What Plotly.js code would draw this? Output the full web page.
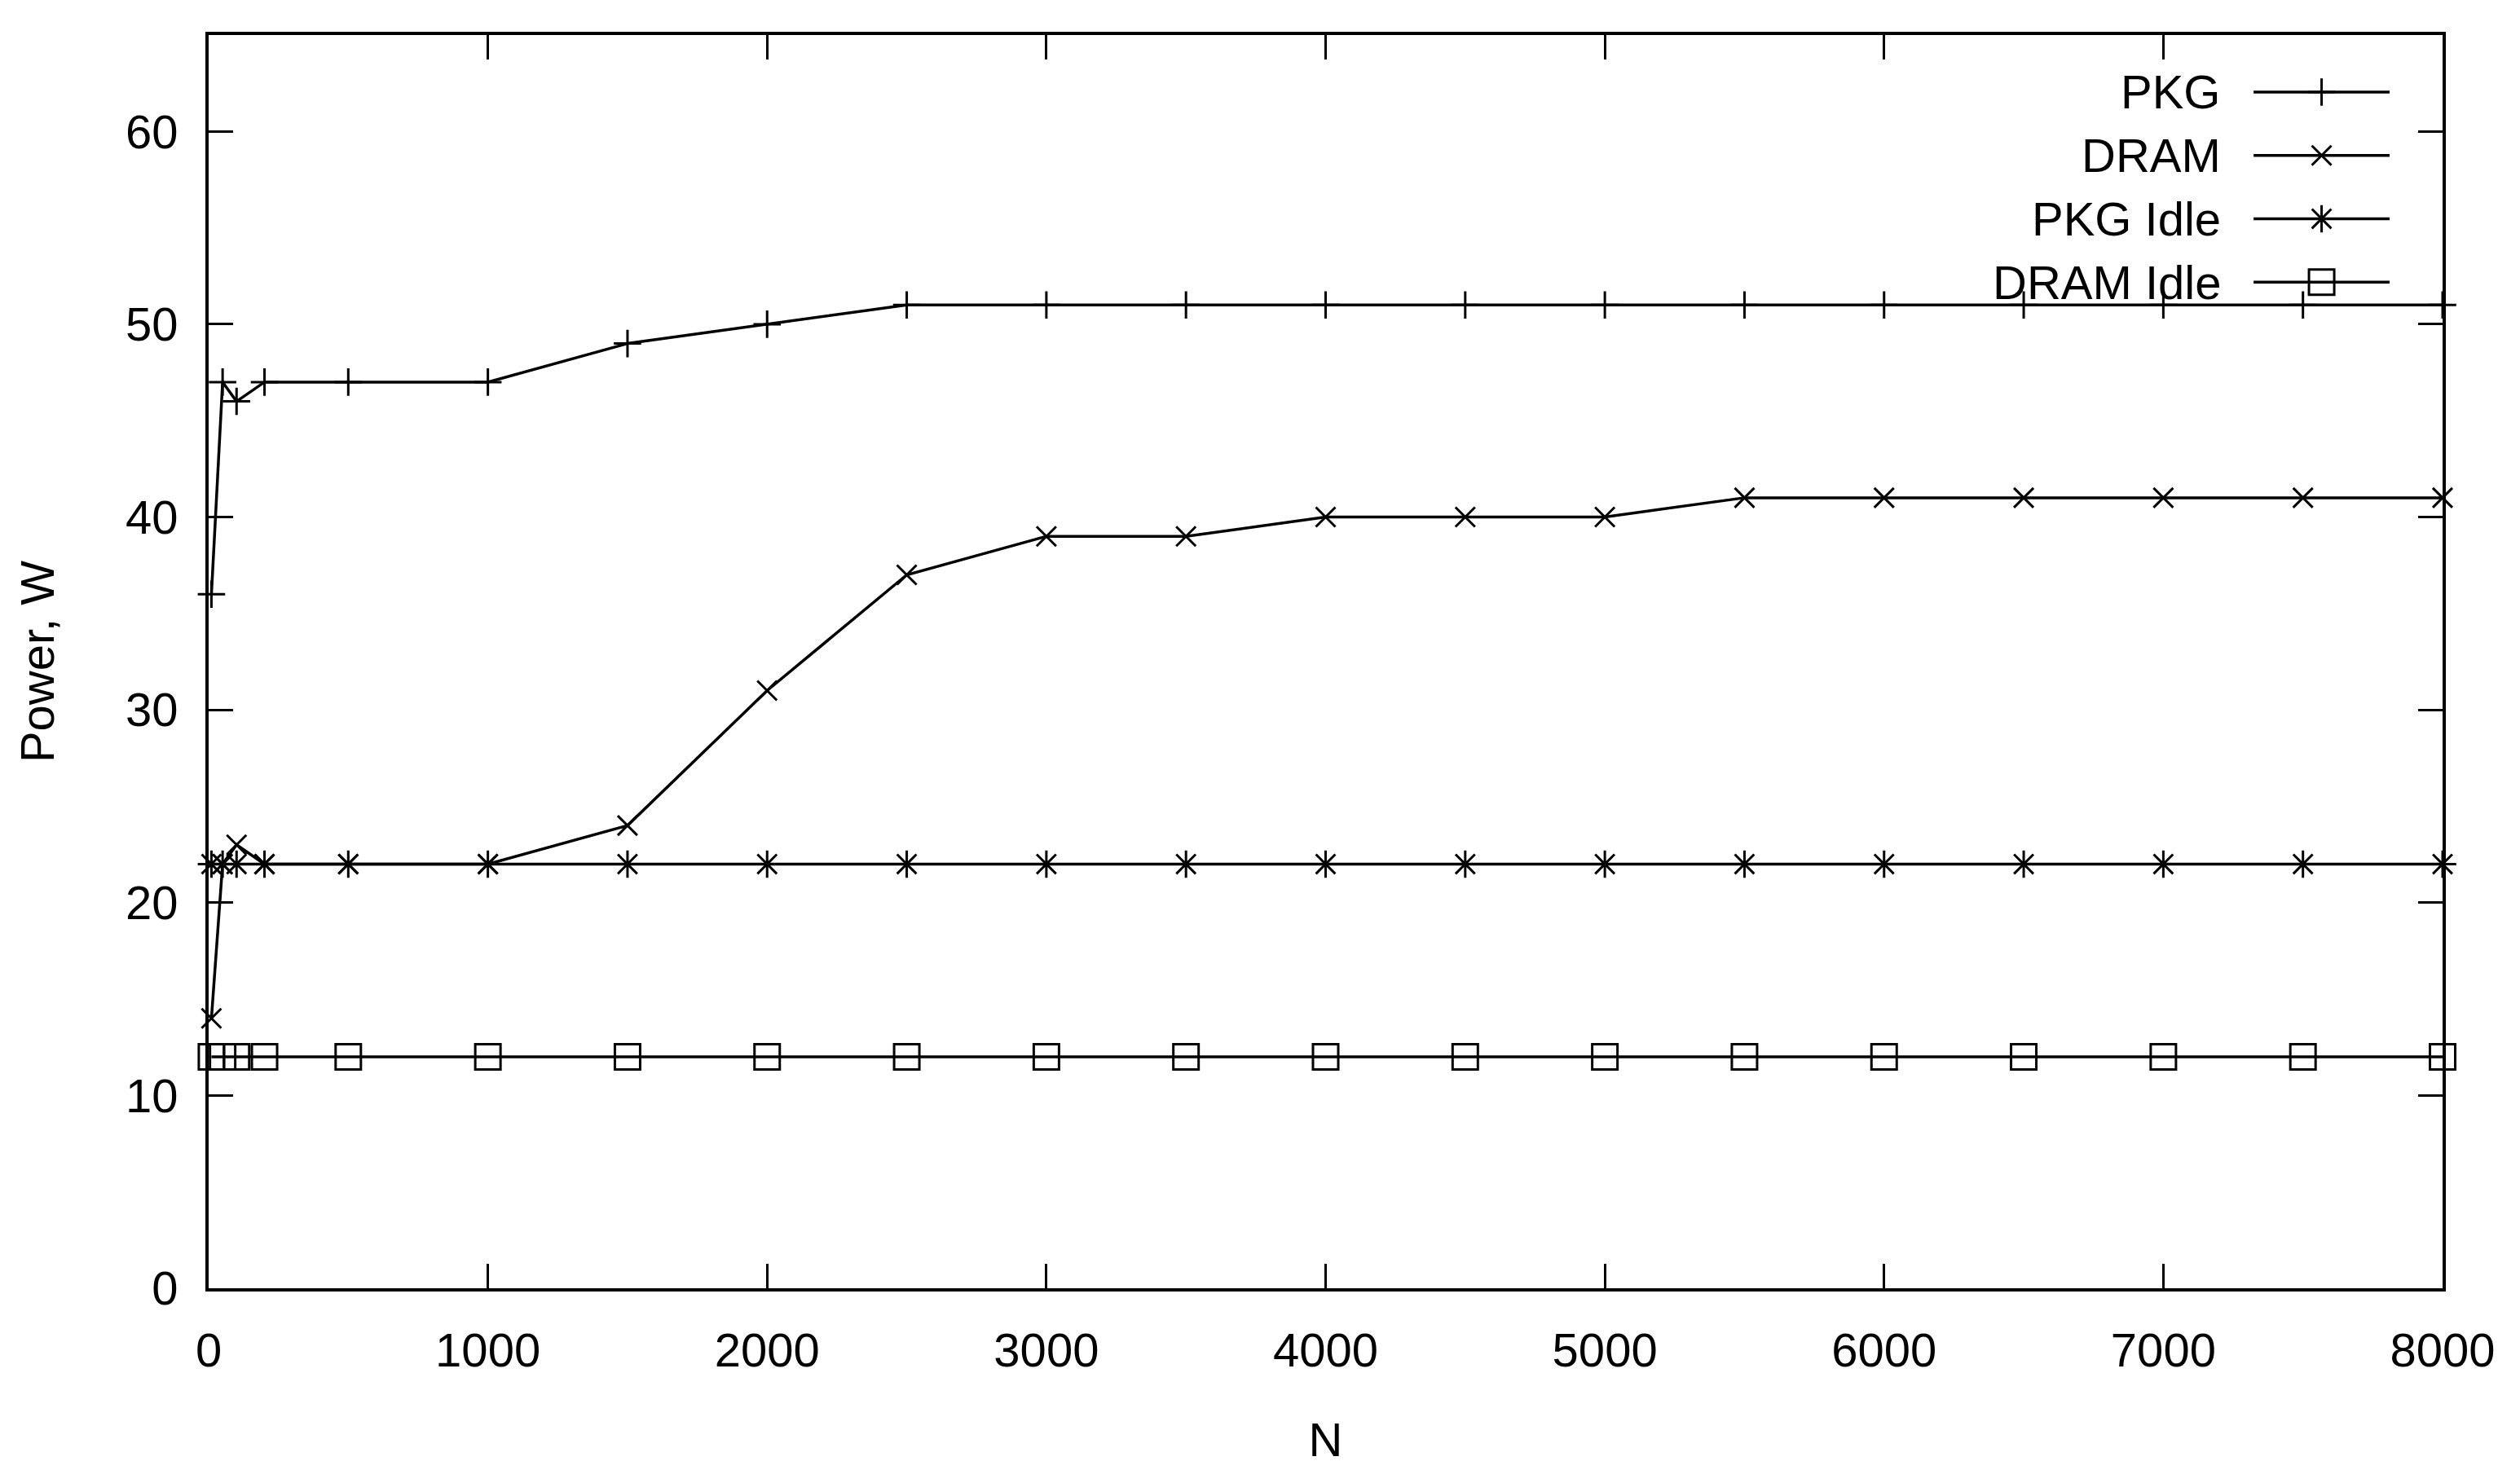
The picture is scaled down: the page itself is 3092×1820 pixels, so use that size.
<!DOCTYPE html>
<html>
<head>
<meta charset="utf-8">
<script src="https://cdn.plot.ly/plotly-3.0.1.min.js"></script>
<style>html,body{margin:0;padding:0;background:#fff;}#chart{width:3092px;height:1820px;}</style>
</head>
<body>
<div id="chart"></div>
<script>
// ---- data ----
const N = [10, 50, 100, 200, 500, 1000, 1500, 2000, 2500, 3000, 3500, 4000, 4500, 5000, 5500, 6000, 6500, 7000, 7500, 8000];
const PKG = [36, 47, 46, 47, 47, 47, 49, 50, 51, 51, 51, 51, 51, 51, 51, 51, 51, 51, 51, 51];
const DRAM = [14, 22, 23, 22, 22, 22, 24, 31, 37, 39, 39, 40, 40, 40, 41, 41, 41, 41, 41, 41];
const PKG_IDLE = [22, 22, 22, 22, 22, 22, 22, 22, 22, 22, 22, 22, 22, 22, 22, 22, 22, 22, 22, 22];
const DRAM_IDLE = [12, 12, 12, 12, 12, 12, 12, 12, 12, 12, 12, 12, 12, 12, 12, 12, 12, 12, 12, 12];
const SERIES_NAMES = ["PKG", "DRAM", "PKG Idle", "DRAM Idle"];
const X_TICKS = [0, 1000, 2000, 3000, 4000, 5000, 6000, 7000, 8000];
const Y_TICKS = [0, 10, 20, 30, 40, 50, 60];
const X_TITLE = "N";
const Y_TITLE = "Power, W";

// ---- styles ----
const FONT = "Liberation Sans, Arial, sans-serif";
const FS = 58;
const LW = 3.5;
const MLW = 3;
const styles = [
  {symbol: "cross-thin-open", size: 24},
  {symbol: "x-thin-open", size: 24},
  {symbol: "asterisk-open", size: 28},
  {symbol: "square-open", size: 31}
];
const seriesY = [PKG, DRAM, PKG_IDLE, DRAM_IDLE];

const traces = [];
const annotations = [];

// custom legend (text left, sample right, as in gnuplot) on a hidden overlay axis
SERIES_NAMES.forEach((nm, i) => {
  traces.push({
    x: [0, 1], y: [i, i], xaxis: "x2", yaxis: "y2", type: "scatter", mode: "lines",
    line: {color: "#000", width: LW}, showlegend: false, hoverinfo: "skip"
  });
  traces.push({
    x: [0.5], y: [i], xaxis: "x2", yaxis: "y2", type: "scatter", mode: "markers",
    marker: {symbol: styles[i].symbol, size: styles[i].size, color: "#000", line: {color: "#000", width: MLW}},
    showlegend: false, hoverinfo: "skip"
  });
  annotations.push({
    xref: "paper", yref: "y2", x: 0.9015, y: i, xanchor: "right", yanchor: "middle",
    text: nm, showarrow: false, font: {family: FONT, size: FS, color: "#000"}
  });
});

seriesY.forEach((ys, i) => {
  traces.push({
    x: N, y: ys, name: SERIES_NAMES[i], type: "scatter", mode: "lines+markers",
    line: {color: "#000", width: LW},
    marker: {symbol: styles[i].symbol, size: styles[i].size, color: "#000", line: {color: "#000", width: MLW}},
    showlegend: false, cliponaxis: false
  });
});

const axisCommon = {
  showline: true, linecolor: "#000", linewidth: 4, mirror: "ticks",
  ticks: "inside", ticklen: 30, tickwidth: 3, tickcolor: "#000",
  showgrid: false, zeroline: false,
  tickfont: {family: FONT, size: FS, color: "#000"}
};

const layout = {
  width: 3092, height: 1820,
  margin: {l: 256, r: 95, t: 43, b: 239},
  paper_bgcolor: "#fff", plot_bgcolor: "rgba(0,0,0,0)",
  font: {family: FONT, size: FS, color: "#000"},
  xaxis: Object.assign({}, axisCommon, {
    range: [0, 8000], tickvals: X_TICKS, ticktext: X_TICKS.map(String),
    ticklabelstandoff: 22,
    title: {text: X_TITLE, font: {family: FONT, size: FS, color: "#000"}, standoff: 60}
  }),
  yaxis: Object.assign({}, axisCommon, {
    range: [0, 65], tickvals: Y_TICKS, ticktext: Y_TICKS.map(String),
    ticklabelstandoff: 22,
    title: {text: Y_TITLE, font: {family: FONT, size: FS, color: "#000"}, standoff: 70}
  }),
  xaxis2: {domain: [0.9154, 0.9763], range: [0, 1], visible: false, fixedrange: true, anchor: "y2", showgrid: false, zeroline: false},
  yaxis2: {domain: [0.7776, 0.9798], range: [3.5, -0.5], visible: false, fixedrange: true, anchor: "x2", showgrid: false, zeroline: false},
  annotations: annotations,
  showlegend: false
};

Plotly.newPlot("chart", traces, layout, {displayModeBar: false, staticPlot: true});
</script>
</body>
</html>
